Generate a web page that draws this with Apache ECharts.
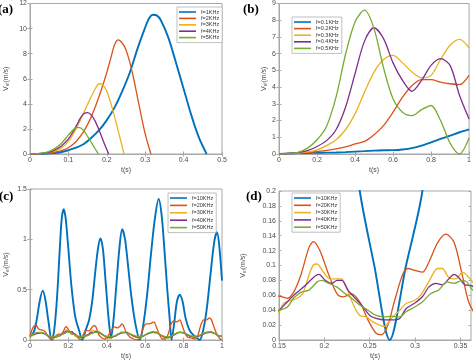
<!DOCTYPE html>
<html><head><meta charset="utf-8">
<script src="https://cdn.jsdelivr.net/npm/echarts@6/dist/echarts.min.js"></script>
<style>html,body{margin:0;padding:0;background:#fff}#c{width:474px;height:361px}</style>
</head><body><div id="c"></div>
<script>
// ---------- Panel (a) ----------
const namesA = ['f=1KHz','f=2KHz','f=3KHz','f=4KHz','f=5KHz'];
const a1 = [[0,0],[0.02,0.01],[0.04,0.03],[0.06,0.07],[0.08,0.14],[0.10,0.3],[0.12,0.5],[0.14,0.8],[0.16,1.3],[0.18,1.9],[0.20,2.7],[0.22,3.7],[0.24,5.0],[0.26,6.5],[0.28,8.4],[0.30,10.1],[0.31,10.8],[0.32,11.1],[0.33,11.05],[0.34,10.7],[0.36,9.3],[0.38,7.3],[0.40,5.2],[0.42,3.1],[0.44,1.3],[0.46,0]];
const a2 = [[0,0],[0.02,0.01],[0.04,0.05],[0.06,0.12],[0.08,0.25],[0.10,0.5],[0.12,1.0],[0.14,1.8],[0.16,3.0],[0.18,4.6],[0.20,6.5],[0.21,7.6],[0.22,8.7],[0.23,9.1],[0.24,8.85],[0.25,8.3],[0.26,7.3],[0.27,6.0],[0.28,4.5],[0.29,3.0],[0.30,1.6],[0.31,0.5],[0.315,0]];
const a3 = [[0,0],[0.02,0.02],[0.04,0.07],[0.06,0.2],[0.08,0.45],[0.10,1.0],[0.12,2.0],[0.14,3.3],[0.16,4.6],[0.17,5.2],[0.18,5.6],[0.19,5.5],[0.20,5.0],[0.21,4.1],[0.22,3.0],[0.23,1.8],[0.24,0.6],[0.245,0]];
const a4 = [[0,0],[0.02,0.02],[0.04,0.08],[0.06,0.25],[0.08,0.6],[0.10,1.2],[0.12,2.2],[0.13,2.8],[0.14,3.2],[0.15,3.3],[0.16,3.1],[0.17,2.6],[0.18,1.9],[0.19,1.1],[0.20,0.35],[0.205,0]];
const a5 = [[0,0],[0.02,0.03],[0.04,0.1],[0.06,0.35],[0.08,0.8],[0.10,1.5],[0.11,1.85],[0.12,2.1],[0.13,2.1],[0.14,1.85],[0.15,1.4],[0.16,0.9],[0.17,0.4],[0.178,0]];

// ---------- Panel (b) ----------
const namesB = ['f=0.1KHz','f=0.2KHz','f=0.3KHz','f=0.4KHz','f=0.5KHz'];
const bT  = [0,0.05,0.1,0.15,0.2,0.25,0.3,0.35,0.4,0.45,0.5,0.55,0.6,0.65,0.7,0.75,0.8,0.85,0.9,0.95,1.0];
const bV1 = [0,0.03,0.05,0.06,0.07,0.08,0.09,0.11,0.14,0.17,0.2,0.22,0.23,0.27,0.35,0.5,0.7,0.9,1.1,1.3,1.47];
const bV2 = [0,0.02,0.06,0.1,0.15,0.22,0.3,0.42,0.6,0.75,1.15,1.7,2.5,3.4,4.1,4.45,4.45,4.3,4.2,4.15,4.7];
const bV3 = [0,0.02,0.06,0.13,0.25,0.5,0.85,1.45,2.4,3.7,4.9,5.65,5.9,5.45,4.9,4.55,4.7,5.65,6.5,6.85,6.35];
const bV4 = [0,0.03,0.08,0.2,0.45,0.8,1.45,2.8,4.8,6.75,7.55,6.9,5.45,4.4,3.75,4.4,5.3,5.7,5.3,3.5,2.1];
const bV5 = [0,0.03,0.1,0.35,0.85,1.65,3.4,5.95,7.9,8.6,7.5,5.15,3.3,2.5,2.3,2.65,2.9,2.0,0.65,0.0,0.95];

// ---------- Panels (c) and (d): same data, (d) is a zoom ----------
const namesC = ['f=10KHz','f=20KHz','f=30KHz','f=40KHz','f=50KHz'];
const c1 = [[0,0.03],[0.02,0.08],[0.035,0.2],[0.05,0.38],[0.066,0.49],[0.08,0.4],[0.095,0.2],[0.113,0.0],[0.125,0.08],[0.14,0.4],[0.155,0.9],[0.165,1.2],[0.175,1.3],[0.185,1.22],[0.2,0.9],[0.215,0.55],[0.23,0.3],[0.239,0.2],[0.255,0.1],[0.272,0.0],[0.29,0.1],[0.308,0.2],[0.325,0.4],[0.34,0.68],[0.355,0.92],[0.367,1.01],[0.38,0.9],[0.395,0.55],[0.41,0.2],[0.422,0.02],[0.435,0.2],[0.45,0.55],[0.465,0.9],[0.48,1.1],[0.495,1.0],[0.51,0.75],[0.53,0.4],[0.55,0.15],[0.572,0.0],[0.59,0.15],[0.61,0.45],[0.63,0.85],[0.65,1.2],[0.67,1.4],[0.685,1.25],[0.7,0.9],[0.715,0.5],[0.728,0.2],[0.737,0.0],[0.75,0.15],[0.765,0.38],[0.78,0.45],[0.795,0.38],[0.81,0.22],[0.83,0.1],[0.85,0.05],[0.87,0.02],[0.884,0.0],[0.9,0.08],[0.92,0.3],[0.94,0.65],[0.96,0.98],[0.974,1.07],[0.985,0.95],[1.0,0.59]];
const c2 = [[0,0.04],[0.015,0.12],[0.03,0.15],[0.045,0.11],[0.06,0.1],[0.075,0.09],[0.09,0.05],[0.105,0.01],[0.115,0.0],[0.125,0.02],[0.14,0.05],[0.15,0.059],[0.159,0.056],[0.166,0.064],[0.174,0.087],[0.183,0.124],[0.188,0.132],[0.195,0.12],[0.205,0.087],[0.214,0.062],[0.221,0.058],[0.23,0.062],[0.239,0.051],[0.248,0.027],[0.257,0.009],[0.263,0.007],[0.27,0.02],[0.277,0.051],[0.286,0.087],[0.292,0.096],[0.301,0.093],[0.308,0.091],[0.315,0.104],[0.325,0.131],[0.334,0.142],[0.343,0.131],[0.352,0.087],[0.359,0.051],[0.366,0.035],[0.375,0.02],[0.39,0.01],[0.41,0.05],[0.425,0.1],[0.44,0.13],[0.455,0.12],[0.47,0.14],[0.48,0.16],[0.49,0.13],[0.5,0.08],[0.52,0.03],[0.54,0.01],[0.56,0.0],[0.575,0.03],[0.59,0.12],[0.605,0.16],[0.62,0.16],[0.635,0.17],[0.645,0.18],[0.66,0.12],[0.675,0.05],[0.69,0.01],[0.705,0.01],[0.72,0.06],[0.735,0.16],[0.75,0.19],[0.765,0.18],[0.78,0.2],[0.79,0.16],[0.805,0.08],[0.82,0.03],[0.84,0.02],[0.86,0.01],[0.875,0.05],[0.89,0.15],[0.905,0.2],[0.92,0.2],[0.935,0.22],[0.945,0.2],[0.96,0.12],[0.975,0.05],[0.99,0.01],[1.0,0.0]];
const c3 = [[0,0.03],[0.02,0.05],[0.04,0.07],[0.06,0.075],[0.08,0.06],[0.1,0.035],[0.115,0.02],[0.13,0.025],[0.14,0.032],[0.15,0.038],[0.155,0.049],[0.163,0.053],[0.17,0.056],[0.176,0.062],[0.183,0.087],[0.188,0.101],[0.192,0.102],[0.199,0.091],[0.206,0.082],[0.214,0.082],[0.219,0.082],[0.225,0.069],[0.232,0.047],[0.239,0.033],[0.246,0.031],[0.254,0.024],[0.261,0.02],[0.266,0.018],[0.274,0.029],[0.283,0.04],[0.29,0.049],[0.299,0.053],[0.306,0.06],[0.315,0.078],[0.325,0.096],[0.33,0.096],[0.337,0.084],[0.345,0.082],[0.352,0.091],[0.357,0.087],[0.362,0.08],[0.375,0.06],[0.39,0.035],[0.405,0.02],[0.42,0.02],[0.44,0.04],[0.46,0.06],[0.48,0.08],[0.5,0.08],[0.52,0.06],[0.54,0.035],[0.56,0.02],[0.58,0.025],[0.6,0.05],[0.62,0.07],[0.64,0.085],[0.66,0.08],[0.68,0.05],[0.7,0.025],[0.72,0.02],[0.74,0.04],[0.76,0.065],[0.78,0.08],[0.8,0.075],[0.82,0.05],[0.84,0.03],[0.86,0.025],[0.88,0.04],[0.9,0.06],[0.92,0.08],[0.94,0.085],[0.96,0.07],[0.98,0.045],[1.0,0.03]];
const c4 = [[0,0.04],[0.02,0.055],[0.04,0.065],[0.06,0.07],[0.08,0.055],[0.1,0.035],[0.115,0.025],[0.13,0.028],[0.14,0.034],[0.15,0.04],[0.159,0.051],[0.168,0.062],[0.177,0.071],[0.188,0.084],[0.194,0.088],[0.201,0.08],[0.208,0.076],[0.214,0.08],[0.219,0.08],[0.226,0.067],[0.234,0.056],[0.241,0.047],[0.25,0.033],[0.257,0.029],[0.266,0.027],[0.275,0.027],[0.283,0.029],[0.29,0.042],[0.299,0.049],[0.308,0.058],[0.315,0.071],[0.323,0.076],[0.33,0.074],[0.337,0.082],[0.343,0.088],[0.348,0.084],[0.355,0.074],[0.362,0.073],[0.37,0.065],[0.385,0.045],[0.4,0.03],[0.42,0.025],[0.44,0.035],[0.46,0.055],[0.48,0.07],[0.5,0.075],[0.52,0.06],[0.54,0.04],[0.56,0.028],[0.58,0.03],[0.6,0.05],[0.62,0.065],[0.64,0.075],[0.66,0.07],[0.68,0.05],[0.7,0.03],[0.72,0.025],[0.74,0.04],[0.76,0.06],[0.78,0.075],[0.8,0.07],[0.82,0.05],[0.84,0.035],[0.86,0.03],[0.88,0.04],[0.9,0.055],[0.92,0.07],[0.94,0.075],[0.96,0.065],[0.98,0.045],[1.0,0.035]];
const c5 = [[0,0.04],[0.02,0.06],[0.04,0.075],[0.06,0.075],[0.08,0.06],[0.1,0.04],[0.115,0.03],[0.13,0.032],[0.14,0.036],[0.15,0.04],[0.159,0.044],[0.166,0.056],[0.174,0.064],[0.183,0.067],[0.192,0.078],[0.197,0.08],[0.205,0.076],[0.214,0.071],[0.221,0.064],[0.23,0.056],[0.239,0.047],[0.248,0.04],[0.257,0.033],[0.266,0.031],[0.274,0.032],[0.283,0.031],[0.29,0.038],[0.299,0.044],[0.308,0.051],[0.317,0.062],[0.326,0.067],[0.335,0.078],[0.343,0.076],[0.352,0.08],[0.357,0.078],[0.362,0.069],[0.37,0.06],[0.385,0.045],[0.4,0.035],[0.42,0.03],[0.44,0.04],[0.46,0.06],[0.48,0.075],[0.5,0.07],[0.52,0.06],[0.54,0.045],[0.56,0.035],[0.58,0.035],[0.6,0.05],[0.62,0.07],[0.64,0.08],[0.66,0.07],[0.68,0.05],[0.7,0.035],[0.72,0.03],[0.74,0.045],[0.76,0.065],[0.78,0.075],[0.8,0.07],[0.82,0.055],[0.84,0.04],[0.86,0.035],[0.88,0.045],[0.9,0.06],[0.92,0.075],[0.94,0.08],[0.96,0.065],[0.98,0.045],[1.0,0.035]];

// tick labels
const xTicksA = [0,0.1,0.2,0.3,0.4,0.5];
const yTicksA = [0,2,4,6,8,10,12];
const xTicksB = [0,0.2,0.4,0.6,0.8,1];
const yTicksB = [0,1,2,3,4,5,6,7,8,9];
const xTicksC = [0,0.2,0.4,0.6,0.8,1];
const yTicksC = [0,0.5,1,1.5];
const xTicksD = [0.15,0.2,0.25,0.3,0.35];
const yTicksD = [0,0.02,0.04,0.06,0.08,0.1,0.12,0.14,0.16,0.18,0.2];

const colors = ['#0072BD','#D95319','#EDB120','#7E2F8E','#77AC30'];
const FONT = '"Liberation Sans", Arial, sans-serif';
const AX = '#a8a8a8', LB = '#4a4a4a';

const grids = [
  {left:30, top:3, width:192, height:151},
  {left:279, top:2, width:193, height:152},
  {left:30, top:189, width:192, height:153},
  {left:279, top:191, width:192, height:151}
].map(g => Object.assign({show:true, borderColor:AX, borderWidth:1, backgroundColor:'#fff'}, g));

const ranges = [
  {x:[0,0.5], y:[0,12], xt:xTicksA, yt:yTicksA, yGap:20},
  {x:[0,1], y:[0,9], xt:xTicksB, yt:yTicksB, yGap:10},
  {x:[0,1], y:[0,1.5], xt:xTicksC, yt:yTicksC, yGap:20},
  {x:[0.15,0.3616], y:[0,0.2], xt:xTicksD, yt:yTicksD, yGap:32}
];
const fmt = v => String(+(+v).toFixed(4));

const xAxis = [], yAxis = [];
ranges.forEach((r, i) => {
  xAxis.push({type:'value', gridIndex:i, min:r.x[0], max:r.x[1], position:'bottom',
    name:'t(s)', nameLocation:'middle', nameGap:13, nameTextStyle:{fontSize:7, color:LB, fontFamily:FONT},
    axisLine:{show:true, lineStyle:{color:AX, width:1}},
    axisTick:{show:true, inside:true, length:2.5, lineStyle:{color:AX}, customValues:r.xt},
    axisLabel:{fontSize:7, color:LB, margin:3, fontFamily:FONT, customValues:r.xt, formatter:fmt},
    splitLine:{show:false}});
  xAxis.push({type:'value', gridIndex:i, min:r.x[0], max:r.x[1], position:'top',
    axisLine:{show:false}, axisTick:{show:true, inside:true, length:2.5, lineStyle:{color:AX}, customValues:r.xt},
    axisLabel:{show:false, customValues:r.xt}, splitLine:{show:false}});
  yAxis.push({type:'value', gridIndex:i, min:r.y[0], max:r.y[1], position:'left',
    name:'{v|V}{s|ef}{v|(m/s)}', nameLocation:'middle', nameRotate:90, nameGap:r.yGap,
    nameTextStyle:{rich:{v:{fontSize:7, color:LB, fontFamily:FONT}, s:{fontSize:4.5, color:LB, fontFamily:FONT, padding:[3,0,0,0]}}},
    axisLine:{show:true, lineStyle:{color:AX, width:1}},
    axisTick:{show:true, inside:true, length:2.5, lineStyle:{color:AX}, customValues:r.yt},
    axisLabel:{fontSize:7, color:LB, margin:3, fontFamily:FONT, customValues:r.yt, formatter:fmt},
    splitLine:{show:false}});
  yAxis.push({type:'value', gridIndex:i, min:r.y[0], max:r.y[1], position:'right',
    axisLine:{show:false}, axisTick:{show:true, inside:true, length:2.5, lineStyle:{color:AX}, customValues:r.yt},
    axisLabel:{show:false, customValues:r.yt}, splitLine:{show:false}});
});

const series = [];
function add(names, datas, gi) {
  datas.forEach((d, k) => {
    series.push({type:'line', name:names[k], data:d, xAxisIndex:2*gi, yAxisIndex:2*gi,
      symbol:'none', showSymbol:false, smooth:0.3, clip:true,
      lineStyle:{color:colors[k], width: k===0 ? 1.9 : 1.3}, itemStyle:{color:colors[k]}});
  });
}
add(namesA, [a1,a2,a3,a4,a5], 0);
const zipB = v => bT.map((t, i) => [t, v[i]]);
add(namesB, [bV1,bV2,bV3,bV4,bV5].map(zipB), 1);
add(namesC, [c1,c2,c3,c4,c5], 2);
add(namesC, [c1,c2,c3,c4,c5], 3);

function leg(names, left, top, gap) {
  return {show:true, data:names, orient:'vertical', left:left, top:top, icon:'rect',
    itemWidth:17, itemHeight:1.6, itemGap:gap, padding:[2,3,2,2],
    backgroundColor:'#fff', borderColor:'#b0b0b0', borderWidth:0.8,
    textStyle:{fontSize:5.5, lineHeight:6, color:'#333', fontFamily:FONT}, selectedMode:false};
}

const lbl = (t, x, y) => ({type:'text', left:x, top:y, style:{text:t, font:'bold 13px "Liberation Serif", "Times New Roman", serif', fill:'#000'}});

const chart = echarts.init(document.getElementById('c'), null, {renderer:'canvas'});
chart.setOption({
  animation:false,
  backgroundColor:'#fff',
  grid:grids, xAxis:xAxis, yAxis:yAxis, series:series,
  legend:[leg(namesA,177,7,0.4), leg(namesB,292,17,0.6), leg(namesC,168,193,1.4), leg(namesC,292,193,1.3)],
  graphic:[lbl('(a)',-2,3), lbl('(b)',243,3), lbl('(c)',-1,190), lbl('(d)',246,190)]
});
</script>
</body></html>
